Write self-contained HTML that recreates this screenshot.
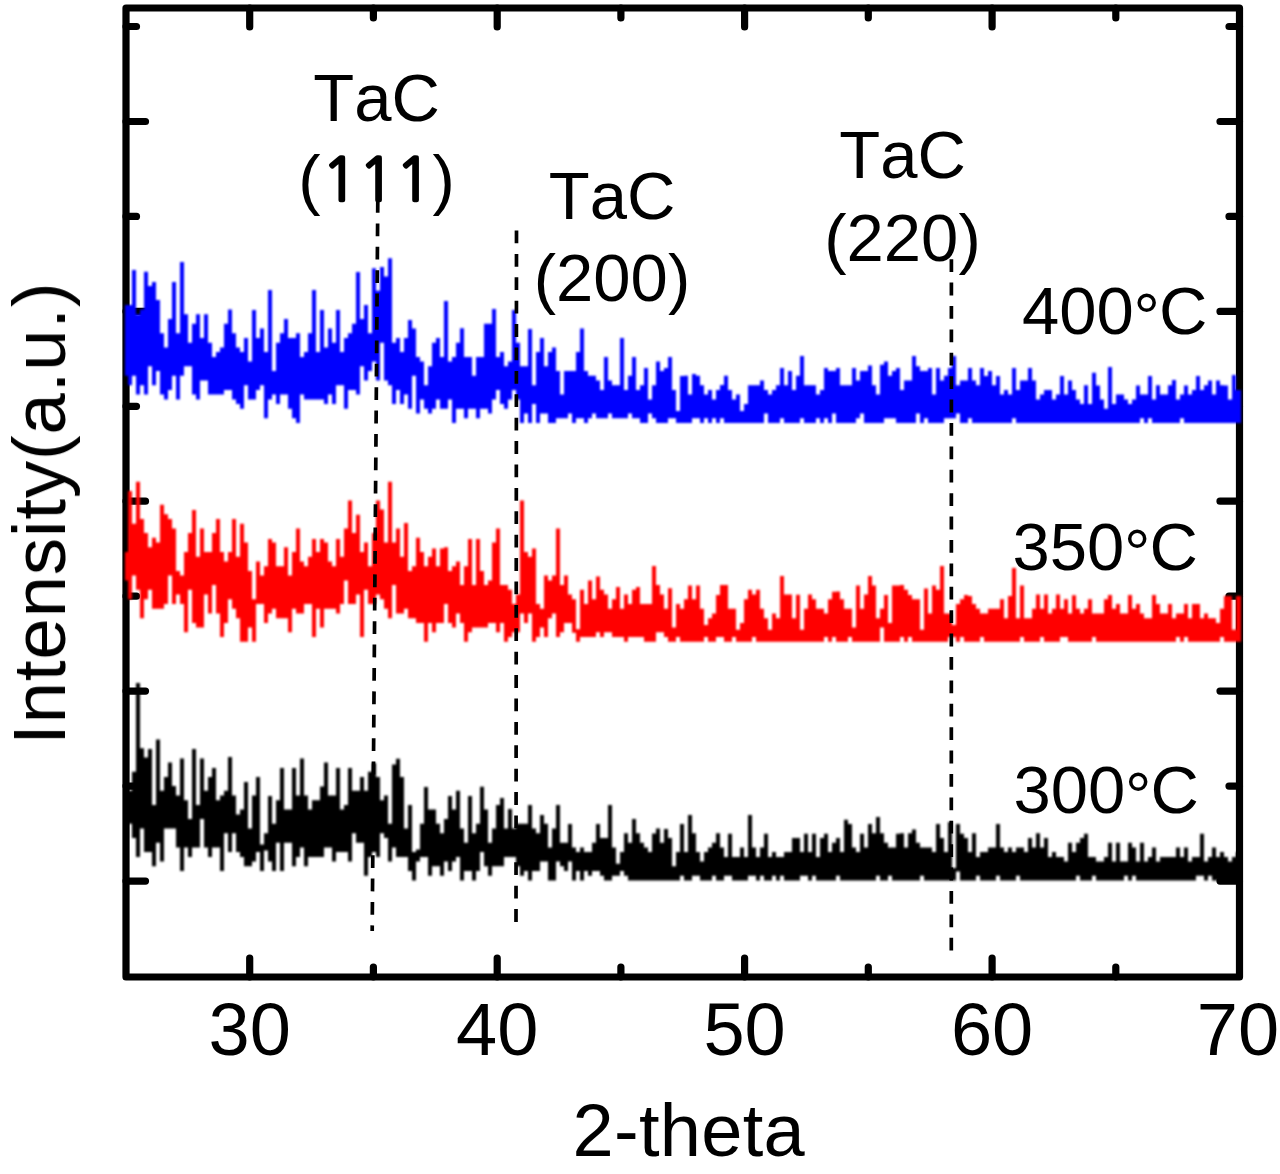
<!DOCTYPE html>
<html lang="en"><head><meta charset="utf-8"><title>XRD patterns of TaC films</title>
<style>html,body{margin:0;padding:0;background:#fff}svg{display:block}text{font-family:"Liberation Sans",Arial,Helvetica,sans-serif;fill:#000;font-kerning:none;font-variant-ligatures:none}</style></head><body>
<svg width="1280" height="1174" viewBox="0 0 1280 1174">
<rect width="1280" height="1174" fill="#fff"/>
<defs><filter id="soft" x="-2%" y="-10%" width="104%" height="120%"><feGaussianBlur stdDeviation="0.9"/></filter><filter id="aa" x="-1%" y="-1%" width="102%" height="102%"><feGaussianBlur stdDeviation="0.55"/></filter></defs>
<g filter="url(#aa)">
<g stroke="#000" stroke-width="7.2" fill="none" stroke-linecap="round">
<rect x="126.0" y="8.0" width="1113.5" height="969.0" stroke-linejoin="round"/>
<path d="M249.7 977.0V958.0M249.7 8.0V27.0"/>
<path d="M373.4 977.0V967.0M373.4 8.0V18.0"/>
<path d="M497.2 977.0V958.0M497.2 8.0V27.0"/>
<path d="M620.9 977.0V967.0M620.9 8.0V18.0"/>
<path d="M744.6 977.0V958.0M744.6 8.0V27.0"/>
<path d="M868.3 977.0V967.0M868.3 8.0V18.0"/>
<path d="M992.1 977.0V958.0M992.1 8.0V27.0"/>
<path d="M1115.8 977.0V967.0M1115.8 8.0V18.0"/>
<path d="M126.0 26.5H136.5M1239.5 26.5H1229.0"/>
<path d="M126.0 121.5H145.5M1239.5 121.5H1220.0"/>
<path d="M126.0 216.4H136.5M1239.5 216.4H1229.0"/>
<path d="M126.0 311.4H145.5M1239.5 311.4H1220.0"/>
<path d="M126.0 406.3H136.5M1239.5 406.3H1229.0"/>
<path d="M126.0 501.2H145.5M1239.5 501.2H1220.0"/>
<path d="M126.0 596.2H136.5M1239.5 596.2H1229.0"/>
<path d="M126.0 691.1H145.5M1239.5 691.1H1220.0"/>
<path d="M126.0 786.1H136.5M1239.5 786.1H1229.0"/>
<path d="M126.0 881.1H145.5M1239.5 881.1H1220.0"/>
</g>
<g filter="url(#soft)">
<path d="M125.0 790.7V790.7H128.0V790.7H132.0V771.8H136.0V683.0H140.0V748.2H144.0V757.6H148.0V749.0H152.0V804.9H156.0V739.5H160.0V790.7H164.0V777.0H168.0V762.4H172.0V786.0H176.0V795.5H180.0V758.5H184.0V800.2H188.0V819.1H192.0V749.0H196.0V804.9H200.0V758.5H204.0V790.7H208.0V777.0H212.0V768.0H216.0V800.2H220.0V795.5H224.0V790.7H228.0V757.0H232.0V795.5H236.0V814.4H240.0V809.6H244.0V782.1H248.0V828.5H252.0V795.5H256.0V777.0H260.0V844.4H264.0V833.2H268.0V796.0H272.0V823.8H276.0V800.2H280.0V768.0H284.0V809.6H288.0V809.6H292.0V768.0H296.0V795.5H300.0V758.5H304.0V795.5H308.0V809.6H312.0V800.2H316.0V800.2H320.0V786.6H324.0V762.4H328.0V795.5H332.0V795.5H336.0V768.0H340.0V809.6H344.0V804.9H348.0V768.0H352.0V790.7H356.0V790.7H360.0V777.0H364.0V790.7H368.0V771.8H372.0V762.9H376.0V777.0H380.0V800.2H384.0V795.5H388.0V823.8H392.0V764.6H396.0V758.7H400.0V777.0H404.0V828.5H408.0V805.0H412.0V852.1H416.0V849.6H420.0V823.8H424.0V787.1H428.0V809.6H432.0V809.6H436.0V823.8H440.0V833.2H444.0V819.1H448.0V796.0H452.0V809.6H456.0V790.7H460.0V828.5H464.0V842.7H468.0V796.0H472.0V833.2H476.0V823.8H480.0V786.7H484.0V809.6H488.0V842.7H492.0V828.5H496.0V805.0H500.0V798.0H504.0V828.5H508.0V808.9H512.0V828.5H516.0V823.8H520.0V823.8H524.0V823.8H528.0V805.0H532.0V828.5H536.0V833.2H540.0V815.0H544.0V823.8H548.0V847.4H552.0V828.5H556.0V805.0H560.0V842.7H564.0V842.7H568.0V824.0H572.0V847.4H576.0V852.1H580.0V847.4H584.0V852.1H588.0V852.1H592.0V842.7H596.0V824.0H600.0V838.0H604.0V838.0H608.0V805.0H612.0V847.4H616.0V863.8H620.0V852.1H624.0V833.2H628.0V842.7H632.0V819.1H636.0V833.2H640.0V842.7H644.0V847.4H648.0V852.1H652.0V833.6H656.0V828.5H660.0V842.7H664.0V828.9H668.0V838.0H672.0V866.3H676.0V852.1H680.0V824.0H684.0V852.1H688.0V815.0H692.0V833.2H696.0V852.1H700.0V861.6H704.0V852.1H708.0V847.4H712.0V842.7H716.0V833.2H720.0V847.4H724.0V856.9H728.0V833.7H732.0V856.9H736.0V856.9H740.0V847.4H744.0V856.9H748.0V815.0H752.0V847.4H756.0V856.9H760.0V847.4H764.0V833.7H768.0V856.9H772.0V852.1H776.0V856.9H780.0V856.9H784.0V852.1H788.0V852.1H792.0V838.0H796.0V838.0H800.0V852.1H804.0V833.7H808.0V852.1H812.0V833.7H816.0V856.9H820.0V838.0H824.0V833.7H828.0V852.1H832.0V842.7H836.0V838.0H840.0V852.1H844.0V819.7H848.0V824.0H852.0V847.4H856.0V852.1H860.0V833.7H864.0V847.4H868.0V824.0H872.0V833.2H876.0V817.0H880.0V833.2H884.0V842.7H888.0V847.4H892.0V847.4H896.0V833.7H900.0V833.2H904.0V847.4H908.0V833.2H912.0V829.4H916.0V842.7H920.0V847.4H924.0V847.4H928.0V847.4H932.0V852.1H936.0V824.0H940.0V838.0H944.0V852.1H948.0V822.0H952.0V868.0H956.0V824.0H960.0V833.7H964.0V838.0H968.0V852.1H972.0V833.2H976.0V856.9H980.0V852.1H984.0V852.1H988.0V847.4H992.0V847.4H996.0V824.0H1000.0V847.4H1004.0V852.1H1008.0V847.4H1012.0V852.1H1016.0V847.4H1020.0V847.4H1024.0V852.1H1028.0V838.0H1032.0V847.4H1036.0V833.2H1040.0V847.4H1044.0V838.0H1048.0V856.9H1052.0V852.1H1056.0V856.9H1060.0V856.9H1064.0V861.6H1068.0V842.7H1072.0V852.1H1076.0V842.7H1080.0V838.0H1084.0V833.7H1088.0V856.9H1092.0V856.9H1096.0V861.6H1100.0V861.6H1104.0V856.9H1108.0V842.7H1112.0V861.6H1116.0V842.7H1120.0V861.6H1124.0V861.6H1128.0V842.7H1132.0V847.4H1136.0V861.6H1140.0V842.7H1144.0V861.6H1148.0V856.9H1152.0V847.4H1156.0V861.6H1160.0V856.9H1164.0V856.9H1168.0V856.9H1172.0V856.9H1176.0V847.4H1180.0V856.9H1184.0V847.4H1188.0V861.6H1192.0V856.9H1196.0V856.9H1200.0V833.7H1204.0V861.6H1208.0V856.9H1212.0V847.4H1216.0V856.9H1220.0V852.1H1224.0V856.9H1228.0V861.6H1232.0V856.9H1236.0V852.1H1241.0V880.5H1236.0V880.5H1232.0V880.5H1228.0V880.5H1224.0V880.5H1220.0V880.5H1216.0V880.5H1212.0V875.8H1208.0V880.5H1204.0V875.8H1200.0V875.8H1196.0V880.5H1192.0V880.5H1188.0V880.5H1184.0V880.5H1180.0V880.5H1176.0V880.5H1172.0V880.5H1168.0V880.5H1164.0V880.5H1160.0V880.5H1156.0V880.5H1152.0V880.5H1148.0V880.5H1144.0V880.5H1140.0V880.5H1136.0V875.8H1132.0V880.5H1128.0V875.8H1124.0V880.5H1120.0V880.5H1116.0V880.5H1112.0V880.5H1108.0V880.5H1104.0V880.5H1100.0V880.5H1096.0V875.8H1092.0V880.5H1088.0V880.5H1084.0V880.5H1080.0V875.8H1076.0V880.5H1072.0V880.5H1068.0V880.5H1064.0V880.5H1060.0V880.5H1056.0V880.5H1052.0V880.5H1048.0V880.5H1044.0V880.5H1040.0V880.5H1036.0V880.5H1032.0V880.5H1028.0V880.5H1024.0V880.5H1020.0V875.8H1016.0V880.5H1012.0V880.5H1008.0V880.5H1004.0V880.5H1000.0V875.8H996.0V880.5H992.0V880.5H988.0V880.5H984.0V880.5H980.0V875.8H976.0V880.5H972.0V880.5H968.0V880.5H964.0V880.5H960.0V871.5H956.0V880.5H952.0V880.5H948.0V880.5H944.0V880.5H940.0V880.5H936.0V880.5H932.0V880.5H928.0V880.5H924.0V875.8H920.0V880.5H916.0V880.5H912.0V880.5H908.0V880.5H904.0V880.5H900.0V880.5H896.0V880.5H892.0V875.8H888.0V880.5H884.0V880.5H880.0V875.8H876.0V880.5H872.0V880.5H868.0V880.5H864.0V880.5H860.0V880.5H856.0V880.5H852.0V880.5H848.0V880.5H844.0V880.5H840.0V875.8H836.0V880.5H832.0V880.5H828.0V880.5H824.0V880.5H820.0V880.5H816.0V875.8H812.0V880.5H808.0V875.8H804.0V875.8H800.0V880.5H796.0V880.5H792.0V880.5H788.0V880.5H784.0V875.8H780.0V880.5H776.0V875.8H772.0V880.5H768.0V880.5H764.0V875.8H760.0V880.5H756.0V875.8H752.0V875.8H748.0V880.5H744.0V880.5H740.0V880.5H736.0V880.5H732.0V875.8H728.0V875.8H724.0V880.5H720.0V880.5H716.0V875.8H712.0V880.5H708.0V880.5H704.0V880.5H700.0V875.8H696.0V875.8H692.0V880.5H688.0V880.5H684.0V875.8H680.0V880.5H676.0V880.5H672.0V880.5H668.0V880.5H664.0V880.5H660.0V880.5H656.0V880.5H652.0V880.5H648.0V880.5H644.0V880.5H640.0V880.5H636.0V880.5H632.0V880.5H628.0V875.8H624.0V871.0H620.0V875.8H616.0V875.8H612.0V880.5H608.0V880.5H604.0V875.8H600.0V871.0H596.0V871.0H592.0V875.8H588.0V871.0H584.0V880.5H580.0V871.0H576.0V880.5H572.0V861.6H568.0V871.0H564.0V866.3H560.0V861.6H556.0V880.5H552.0V880.5H548.0V861.6H544.0V861.6H540.0V871.0H536.0V871.0H532.0V880.5H528.0V871.0H524.0V875.8H520.0V866.3H516.0V856.9H512.0V856.9H508.0V856.9H504.0V866.3H500.0V866.3H496.0V866.3H492.0V875.8H488.0V866.3H484.0V852.1H480.0V871.0H476.0V880.5H472.0V871.0H468.0V871.0H464.0V880.5H460.0V856.9H456.0V861.6H452.0V871.0H448.0V861.6H444.0V875.8H440.0V866.3H436.0V866.3H432.0V875.8H428.0V856.9H424.0V856.9H420.0V861.6H416.0V880.5H412.0V871.0H408.0V856.9H404.0V856.9H400.0V856.9H396.0V847.4H392.0V861.6H388.0V838.0H384.0V833.2H380.0V856.9H376.0V852.1H372.0V856.9H368.0V875.8H364.0V842.7H360.0V842.7H356.0V833.2H352.0V861.6H348.0V852.1H344.0V852.1H340.0V852.1H336.0V861.6H332.0V847.4H328.0V847.4H324.0V856.9H320.0V856.9H316.0V856.9H312.0V856.9H308.0V866.3H304.0V847.4H300.0V856.9H296.0V866.3H292.0V842.7H288.0V842.7H284.0V871.0H280.0V842.7H276.0V871.0H272.0V861.6H268.0V850.4H264.0V871.0H260.0V852.1H256.0V861.6H252.0V866.3H248.0V866.3H244.0V856.9H240.0V852.1H236.0V833.2H232.0V852.1H228.0V833.2H224.0V871.0H220.0V847.4H216.0V847.4H212.0V856.9H208.0V847.4H204.0V819.1H200.0V847.4H196.0V847.4H192.0V856.9H188.0V847.4H184.0V871.0H180.0V847.4H176.0V828.5H172.0V828.5H168.0V828.5H164.0V861.6H160.0V842.7H156.0V866.3H152.0V852.1H148.0V852.1H144.0V828.5H140.0V856.9H136.0V838.0H132.0V823.8H128.0V838.0H125.0Z" fill="#000000" stroke="none"/>
<path d="M125.0 552.0V552.0H128.0V491.0H132.0V523.7H136.0V481.7H140.0V518.9H144.0V533.1H148.0V547.3H152.0V537.8H156.0V542.6H160.0V504.8H164.0V514.2H168.0V518.9H172.0V528.6H176.0V570.9H180.0V575.6H184.0V552.0H188.0V533.1H192.0V510.0H196.0V556.8H200.0V528.6H204.0V552.0H208.0V552.0H212.0V533.1H216.0V519.0H220.0V552.0H224.0V561.5H228.0V552.0H232.0V519.0H236.0V556.8H240.0V523.7H244.0V542.6H248.0V570.9H252.0V599.3H256.0V561.5H260.0V575.6H264.0V566.2H268.0V539.0H272.0V542.6H276.0V566.2H280.0V566.2H284.0V547.3H288.0V575.6H292.0V552.0H296.0V528.6H300.0V561.5H304.0V566.2H308.0V556.8H312.0V539.0H316.0V552.0H320.0V539.0H324.0V542.6H328.0V561.5H332.0V566.2H336.0V539.0H340.0V556.8H344.0V528.4H348.0V500.5H352.0V533.1H356.0V514.8H360.0V552.0H364.0V542.6H368.0V566.2H372.0V533.1H376.0V500.5H380.0V509.5H384.0V542.6H388.0V481.7H392.0V542.6H396.0V528.6H400.0V556.8H404.0V523.0H408.0V570.9H412.0V566.2H416.0V537.8H420.0V552.0H424.0V566.2H428.0V556.8H432.0V548.5H436.0V566.2H440.0V548.5H444.0V547.3H448.0V570.9H452.0V566.2H456.0V561.5H460.0V585.1H464.0V566.2H468.0V539.0H472.0V585.1H476.0V539.0H480.0V570.9H484.0V585.1H488.0V580.4H492.0V542.6H496.0V528.6H500.0V585.1H504.0V585.1H508.0V589.8H512.0V604.0H516.0V594.5H520.0V500.5H524.0V552.0H528.0V556.8H532.0V548.5H536.0V604.0H540.0V608.7H544.0V575.6H548.0V580.4H552.0V575.6H556.0V528.6H560.0V585.1H564.0V575.6H568.0V594.5H572.0V599.3H576.0V629.3H580.0V589.8H584.0V604.0H588.0V580.4H592.0V599.3H596.0V576.6H600.0V589.8H604.0V594.5H608.0V608.7H612.0V599.3H616.0V587.0H620.0V608.7H624.0V594.5H628.0V604.0H632.0V589.8H636.0V587.0H640.0V604.0H644.0V604.0H648.0V604.0H652.0V566.0H656.0V585.1H660.0V594.5H664.0V608.7H668.0V588.2H672.0V627.6H676.0V604.0H680.0V608.7H684.0V599.3H688.0V585.5H692.0V599.3H696.0V585.5H700.0V608.7H704.0V625.1H708.0V618.2H712.0V613.4H716.0V595.0H720.0V585.1H724.0V585.1H728.0V608.7H732.0V608.7H736.0V629.8H740.0V622.9H744.0V599.3H748.0V589.8H752.0V594.5H756.0V589.8H760.0V608.7H764.0V618.2H768.0V629.8H772.0V613.4H776.0V618.2H780.0V576.0H784.0V594.5H788.0V594.5H792.0V618.2H796.0V594.7H800.0V629.8H804.0V608.7H808.0V594.5H812.0V599.3H816.0V608.7H820.0V608.7H824.0V613.4H828.0V599.3H832.0V591.8H836.0V591.4H840.0V599.3H844.0V608.7H848.0V608.7H852.0V627.6H856.0V585.5H860.0V608.7H864.0V594.5H868.0V576.0H872.0V585.5H876.0V618.2H880.0V608.7H884.0V595.0H888.0V622.9H892.0V585.5H896.0V585.5H900.0V585.1H904.0V589.8H908.0V595.0H912.0V599.3H916.0V599.3H920.0V629.8H924.0V588.6H928.0V613.4H932.0V585.5H936.0V589.8H940.0V566.0H944.0V613.4H948.0V613.4H952.0V625.1H956.0V604.0H960.0V599.3H964.0V595.0H968.0V596.0H972.0V604.0H976.0V608.7H980.0V613.4H984.0V613.4H988.0V608.7H992.0V608.7H996.0V608.7H1000.0V599.3H1004.0V618.2H1008.0V596.0H1012.0V568.0H1016.0V618.2H1020.0V585.5H1024.0V618.2H1028.0V618.2H1032.0V608.7H1036.0V594.5H1040.0V608.7H1044.0V594.5H1048.0V613.4H1052.0V608.7H1056.0V594.5H1060.0V608.7H1064.0V599.3H1068.0V613.4H1072.0V595.3H1076.0V608.7H1080.0V613.4H1084.0V608.7H1088.0V599.3H1092.0V613.4H1096.0V613.4H1100.0V613.4H1104.0V599.3H1108.0V595.0H1112.0V608.7H1116.0V604.0H1120.0V613.4H1124.0V613.4H1128.0V595.0H1132.0V608.7H1136.0V604.0H1140.0V613.4H1144.0V618.2H1148.0V618.2H1152.0V595.0H1156.0V604.0H1160.0V613.4H1164.0V613.4H1168.0V604.0H1172.0V618.2H1176.0V613.4H1180.0V613.4H1184.0V604.0H1188.0V618.2H1192.0V604.0H1196.0V604.0H1200.0V618.2H1204.0V613.4H1208.0V618.2H1212.0V618.2H1216.0V622.9H1220.0V608.7H1224.0V596.0H1228.0V596.0H1232.0V629.8H1236.0V596.0H1241.0V641.8H1236.0V641.8H1232.0V641.8H1228.0V641.8H1224.0V637.1H1220.0V641.8H1216.0V641.8H1212.0V641.8H1208.0V641.8H1204.0V641.8H1200.0V641.8H1196.0V641.8H1192.0V641.8H1188.0V637.1H1184.0V641.8H1180.0V637.1H1176.0V641.8H1172.0V641.8H1168.0V641.8H1164.0V641.8H1160.0V641.8H1156.0V641.8H1152.0V641.8H1148.0V641.8H1144.0V641.8H1140.0V641.8H1136.0V641.8H1132.0V641.8H1128.0V641.8H1124.0V641.8H1120.0V641.8H1116.0V641.8H1112.0V641.8H1108.0V641.8H1104.0V641.8H1100.0V641.8H1096.0V637.1H1092.0V641.8H1088.0V641.8H1084.0V641.8H1080.0V641.8H1076.0V641.8H1072.0V641.8H1068.0V637.1H1064.0V637.1H1060.0V641.8H1056.0V641.8H1052.0V641.8H1048.0V641.8H1044.0V637.1H1040.0V641.8H1036.0V641.8H1032.0V641.8H1028.0V641.8H1024.0V637.1H1020.0V641.8H1016.0V641.8H1012.0V641.8H1008.0V641.8H1004.0V641.8H1000.0V641.8H996.0V641.8H992.0V641.8H988.0V641.8H984.0V637.1H980.0V641.8H976.0V641.8H972.0V641.8H968.0V641.8H964.0V637.1H960.0V641.8H956.0V637.1H952.0V637.1H948.0V641.8H944.0V641.8H940.0V641.8H936.0V641.8H932.0V641.8H928.0V641.8H924.0V641.8H920.0V641.8H916.0V641.8H912.0V637.1H908.0V641.8H904.0V637.1H900.0V641.8H896.0V641.8H892.0V641.8H888.0V641.8H884.0V627.6H880.0V641.8H876.0V641.8H872.0V641.8H868.0V641.8H864.0V641.8H860.0V641.8H856.0V641.8H852.0V637.1H848.0V641.8H844.0V641.8H840.0V641.8H836.0V637.1H832.0V641.8H828.0V637.1H824.0V641.8H820.0V641.8H816.0V641.8H812.0V641.8H808.0V641.8H804.0V641.8H800.0V641.8H796.0V641.8H792.0V641.8H788.0V641.8H784.0V641.8H780.0V641.8H776.0V641.8H772.0V641.8H768.0V641.8H764.0V641.8H760.0V641.8H756.0V637.1H752.0V641.8H748.0V641.8H744.0V641.8H740.0V641.8H736.0V637.1H732.0V641.8H728.0V641.8H724.0V637.1H720.0V637.1H716.0V641.8H712.0V641.8H708.0V637.1H704.0V641.8H700.0V641.8H696.0V641.8H692.0V641.8H688.0V641.8H684.0V641.8H680.0V637.1H676.0V641.8H672.0V641.8H668.0V637.1H664.0V632.3H660.0V632.3H656.0V641.8H652.0V641.8H648.0V641.8H644.0V637.1H640.0V637.1H636.0V637.1H632.0V637.1H628.0V641.8H624.0V637.1H620.0V637.1H616.0V637.1H612.0V632.3H608.0V632.3H604.0V637.1H600.0V632.3H596.0V637.1H592.0V637.1H588.0V637.1H584.0V637.1H580.0V641.8H576.0V632.8H572.0V622.9H568.0V622.9H564.0V632.3H560.0V637.1H556.0V613.4H552.0V618.2H548.0V637.1H544.0V627.6H540.0V637.1H536.0V641.8H532.0V613.4H528.0V622.9H524.0V613.4H520.0V632.3H516.0V632.3H512.0V637.1H508.0V641.8H504.0V622.9H500.0V632.3H496.0V622.9H492.0V622.9H488.0V627.6H484.0V627.6H480.0V627.6H476.0V627.6H472.0V632.3H468.0V641.8H464.0V622.9H460.0V613.4H456.0V627.6H452.0V622.9H448.0V604.0H444.0V622.9H440.0V622.9H436.0V632.3H432.0V622.9H428.0V641.8H424.0V622.9H420.0V622.9H416.0V618.2H412.0V618.2H408.0V608.7H404.0V613.4H400.0V613.4H396.0V585.1H392.0V618.2H388.0V608.7H384.0V599.3H380.0V594.5H376.0V604.0H372.0V604.0H368.0V589.8H364.0V637.1H360.0V594.5H356.0V604.0H352.0V604.0H348.0V580.4H344.0V604.0H340.0V613.4H336.0V608.7H332.0V608.7H328.0V608.7H324.0V627.6H320.0V608.7H316.0V637.1H312.0V604.0H308.0V604.0H304.0V613.4H300.0V613.4H296.0V608.7H292.0V632.3H288.0V618.2H284.0V618.2H280.0V618.2H276.0V608.7H272.0V613.4H268.0V622.9H264.0V604.0H260.0V604.0H256.0V641.8H252.0V627.6H248.0V641.8H244.0V641.8H240.0V618.2H236.0V608.7H232.0V599.3H228.0V622.9H224.0V637.1H220.0V613.4H216.0V585.1H212.0V613.4H208.0V594.5H204.0V627.6H200.0V627.6H196.0V622.9H192.0V589.8H188.0V632.3H184.0V604.0H180.0V594.5H176.0V604.0H172.0V575.6H168.0V604.0H164.0V608.7H160.0V608.7H156.0V608.7H152.0V589.8H148.0V599.3H144.0V618.2H140.0V589.8H136.0V575.6H132.0V599.3H128.0V580.4H125.0Z" fill="#ff0000" stroke="none"/>
<path d="M125.0 304.9V304.9H128.0V304.9H132.0V270.0H136.0V314.3H140.0V309.6H144.0V271.8H148.0V286.0H152.0V282.0H156.0V300.1H160.0V333.2H164.0V347.4H168.0V319.1H172.0V282.0H176.0V333.2H180.0V262.0H184.0V314.3H188.0V342.7H192.0V323.8H196.0V314.3H200.0V337.9H204.0V314.3H208.0V342.7H212.0V356.9H216.0V352.1H220.0V347.4H224.0V323.8H228.0V309.6H232.0V333.2H236.0V347.4H240.0V352.1H244.0V337.9H248.0V361.6H252.0V310.0H256.0V337.9H260.0V328.5H264.0V352.1H268.0V290.0H272.0V371.0H276.0V342.7H280.0V333.2H284.0V319.1H288.0V337.9H292.0V337.9H296.0V333.2H300.0V356.9H304.0V352.1H308.0V333.2H312.0V290.0H316.0V352.1H320.0V310.0H324.0V347.4H328.0V328.5H332.0V342.7H336.0V310.0H340.0V352.1H344.0V337.9H348.0V333.2H352.0V323.8H356.0V272.0H360.0V319.1H364.0V304.9H368.0V333.2H372.0V268.3H376.0V290.7H380.0V267.1H384.0V276.5H388.0V258.2H392.0V342.7H396.0V337.9H400.0V352.1H404.0V337.9H408.0V320.0H412.0V328.5H416.0V356.9H420.0V361.6H424.0V385.2H428.0V366.3H432.0V342.7H436.0V337.9H440.0V356.9H444.0V301.0H448.0V361.6H452.0V356.9H456.0V342.7H460.0V328.3H464.0V356.9H468.0V356.9H472.0V375.8H476.0V356.9H480.0V356.9H484.0V323.8H488.0V323.8H492.0V309.0H496.0V356.9H500.0V352.1H504.0V366.3H508.0V361.6H512.0V310.0H516.0V342.7H520.0V366.3H524.0V366.3H528.0V329.0H532.0V385.2H536.0V352.1H540.0V338.0H544.0V366.3H548.0V352.1H552.0V347.4H556.0V371.0H560.0V394.6H564.0V371.0H568.0V371.0H572.0V371.0H576.0V352.1H580.0V328.6H584.0V371.0H588.0V375.8H592.0V375.8H596.0V380.5H600.0V389.9H604.0V357.0H608.0V380.5H612.0V385.2H616.0V385.2H620.0V338.0H624.0V389.9H628.0V375.8H632.0V357.0H636.0V389.9H640.0V385.2H644.0V368.0H648.0V399.4H652.0V385.2H656.0V361.6H660.0V371.0H664.0V368.0H668.0V357.0H672.0V389.9H676.0V411.0H680.0V376.0H684.0V375.8H688.0V394.6H692.0V374.0H696.0V375.8H700.0V385.2H704.0V394.6H708.0V389.9H712.0V399.4H716.0V389.9H720.0V385.0H724.0V375.8H728.0V389.9H732.0V399.4H736.0V394.6H740.0V411.0H744.0V404.1H748.0V385.2H752.0V385.2H756.0V385.2H760.0V380.5H764.0V389.9H768.0V394.6H772.0V389.9H776.0V385.2H780.0V368.0H784.0V385.2H788.0V371.0H792.0V389.9H796.0V375.8H800.0V356.0H804.0V385.2H808.0V385.2H812.0V385.2H816.0V394.6H820.0V389.9H824.0V368.0H828.0V371.0H832.0V371.0H836.0V368.0H840.0V385.2H844.0V385.2H848.0V385.2H852.0V368.0H856.0V380.5H860.0V371.0H864.0V371.0H868.0V365.4H872.0V385.2H876.0V394.6H880.0V364.7H884.0V361.6H888.0V375.8H892.0V371.0H896.0V368.0H900.0V389.9H904.0V380.5H908.0V380.5H912.0V356.0H916.0V366.3H920.0V371.0H924.0V371.0H928.0V368.0H932.0V394.6H936.0V368.0H940.0V380.5H944.0V375.8H948.0V368.0H952.0V356.0H956.0V385.2H960.0V380.5H964.0V380.5H968.0V368.0H972.0V380.5H976.0V385.2H980.0V368.0H984.0V376.0H988.0V371.0H992.0V385.2H996.0V376.0H1000.0V394.6H1004.0V389.9H1008.0V394.6H1012.0V368.0H1016.0V389.9H1020.0V380.5H1024.0V380.5H1028.0V368.0H1032.0V380.5H1036.0V399.4H1040.0V394.6H1044.0V389.9H1048.0V389.9H1052.0V399.4H1056.0V394.6H1060.0V376.0H1064.0V394.6H1068.0V380.5H1072.0V389.9H1076.0V399.4H1080.0V404.1H1084.0V385.2H1088.0V404.1H1092.0V372.7H1096.0V385.5H1100.0V399.4H1104.0V408.8H1108.0V367.0H1112.0V404.1H1116.0V394.6H1120.0V394.6H1124.0V399.4H1128.0V404.1H1132.0V399.4H1136.0V385.5H1140.0V394.6H1144.0V394.6H1148.0V376.0H1152.0V399.4H1156.0V385.2H1160.0V394.6H1164.0V394.6H1168.0V385.2H1172.0V380.0H1176.0V399.4H1180.0V394.6H1184.0V385.5H1188.0V394.6H1192.0V389.9H1196.0V376.0H1200.0V389.9H1204.0V385.2H1208.0V380.5H1212.0V394.6H1216.0V380.5H1220.0V385.2H1224.0V385.5H1228.0V399.4H1232.0V375.0H1236.0V389.9H1241.0V423.0H1236.0V423.0H1232.0V423.0H1228.0V423.0H1224.0V423.0H1220.0V423.0H1216.0V423.0H1212.0V423.0H1208.0V423.0H1204.0V423.0H1200.0V423.0H1196.0V423.0H1192.0V423.0H1188.0V423.0H1184.0V418.3H1180.0V423.0H1176.0V423.0H1172.0V423.0H1168.0V423.0H1164.0V423.0H1160.0V423.0H1156.0V423.0H1152.0V418.3H1148.0V423.0H1144.0V418.3H1140.0V423.0H1136.0V423.0H1132.0V423.0H1128.0V423.0H1124.0V423.0H1120.0V423.0H1116.0V423.0H1112.0V423.0H1108.0V423.0H1104.0V423.0H1100.0V423.0H1096.0V423.0H1092.0V423.0H1088.0V423.0H1084.0V423.0H1080.0V423.0H1076.0V423.0H1072.0V423.0H1068.0V423.0H1064.0V423.0H1060.0V423.0H1056.0V423.0H1052.0V423.0H1048.0V423.0H1044.0V423.0H1040.0V423.0H1036.0V423.0H1032.0V423.0H1028.0V423.0H1024.0V423.0H1020.0V423.0H1016.0V418.3H1012.0V423.0H1008.0V423.0H1004.0V423.0H1000.0V423.0H996.0V423.0H992.0V423.0H988.0V423.0H984.0V423.0H980.0V423.0H976.0V423.0H972.0V418.3H968.0V423.0H964.0V423.0H960.0V413.6H956.0V418.3H952.0V418.3H948.0V418.3H944.0V423.0H940.0V423.0H936.0V423.0H932.0V423.0H928.0V418.3H924.0V423.0H920.0V413.6H916.0V423.0H912.0V423.0H908.0V423.0H904.0V423.0H900.0V423.0H896.0V418.3H892.0V418.3H888.0V418.3H884.0V423.0H880.0V423.0H876.0V423.0H872.0V423.0H868.0V423.0H864.0V413.6H860.0V418.3H856.0V423.0H852.0V423.0H848.0V423.0H844.0V423.0H840.0V423.0H836.0V413.6H832.0V423.0H828.0V418.3H824.0V423.0H820.0V418.3H816.0V423.0H812.0V423.0H808.0V423.0H804.0V418.3H800.0V423.0H796.0V423.0H792.0V423.0H788.0V423.0H784.0V418.3H780.0V423.0H776.0V423.0H772.0V423.0H768.0V413.6H764.0V423.0H760.0V423.0H756.0V423.0H752.0V423.0H748.0V423.0H744.0V423.0H740.0V423.0H736.0V423.0H732.0V423.0H728.0V423.0H724.0V418.3H720.0V423.0H716.0V418.3H712.0V423.0H708.0V418.3H704.0V423.0H700.0V418.3H696.0V418.3H692.0V423.0H688.0V423.0H684.0V423.0H680.0V423.0H676.0V418.3H672.0V418.3H668.0V423.0H664.0V423.0H660.0V423.0H656.0V418.3H652.0V413.6H648.0V423.0H644.0V423.0H640.0V418.3H636.0V418.3H632.0V413.6H628.0V418.3H624.0V418.3H620.0V418.3H616.0V418.3H612.0V413.6H608.0V418.3H604.0V418.3H600.0V418.3H596.0V413.6H592.0V418.3H588.0V423.0H584.0V418.3H580.0V418.3H576.0V423.0H572.0V413.6H568.0V418.3H564.0V418.3H560.0V418.3H556.0V423.0H552.0V423.0H548.0V413.6H544.0V413.6H540.0V423.0H536.0V404.1H532.0V423.0H528.0V413.6H524.0V423.0H520.0V399.4H516.0V389.9H512.0V399.4H508.0V408.8H504.0V404.1H500.0V389.9H496.0V399.4H492.0V413.6H488.0V408.8H484.0V408.8H480.0V418.3H476.0V408.8H472.0V408.8H468.0V418.3H464.0V408.8H460.0V408.8H456.0V423.0H452.0V399.4H448.0V408.8H444.0V408.8H440.0V399.4H436.0V408.8H432.0V413.6H428.0V408.8H424.0V399.4H420.0V413.6H416.0V375.8H412.0V408.8H408.0V394.6H404.0V404.1H400.0V389.9H396.0V404.1H392.0V385.2H388.0V380.5H384.0V342.7H380.0V380.5H376.0V361.6H372.0V371.0H368.0V380.5H364.0V366.3H360.0V394.6H356.0V389.9H352.0V389.9H348.0V408.8H344.0V385.2H340.0V385.2H336.0V404.1H332.0V394.6H328.0V404.1H324.0V399.4H320.0V399.4H316.0V399.4H312.0V399.4H308.0V399.4H304.0V394.6H300.0V423.0H296.0V418.3H292.0V408.8H288.0V394.6H284.0V394.6H280.0V404.1H276.0V394.6H272.0V399.4H268.0V418.3H264.0V385.2H260.0V389.9H256.0V399.4H252.0V399.4H248.0V385.2H244.0V408.8H240.0V404.1H236.0V399.4H232.0V389.9H228.0V389.9H224.0V394.6H220.0V394.6H216.0V394.6H212.0V394.6H208.0V380.5H204.0V380.5H200.0V399.4H196.0V394.6H192.0V366.3H188.0V366.3H184.0V375.8H180.0V399.4H176.0V375.8H172.0V389.9H168.0V399.4H164.0V394.6H160.0V371.0H156.0V385.2H152.0V366.3H148.0V394.6H144.0V385.2H140.0V394.6H136.0V375.8H132.0V385.2H128.0V375.8H125.0Z" fill="#0000ff" stroke="none"/>
</g>
<g stroke="#000" stroke-width="3.7" stroke-dasharray="12.8 10.6" fill="none">
<path d="M377.8 200L372.2 931"/>
<path d="M516.5 230.5L516 924"/>
<path d="M951.4 259.2L951.3 953"/>
</g>
<g font-size="67" text-anchor="middle">
<text x="376.5" y="121">TaC</text>
<text y="202.3" text-anchor="start"><tspan x="298.3">(</tspan><tspan font-family="NanumGothic,'Liberation Sans',sans-serif" font-size="60" stroke="#000" stroke-width="2.6" x="321.8 358.6 395.6" y="201.2">111</tspan><tspan x="432.4" y="202.3">)</tspan></text>
<text x="612" y="219">TaC</text><text x="612" y="301">(200)</text>
<text x="902.5" y="177.5">TaC</text><text x="902.5" y="261">(220)</text>
</g>
<g font-size="67" text-anchor="start">
<text x="1022" y="334">400<tspan dx="-0.4" dy="6" font-size="66">°</tspan><tspan dx="-0.9" dy="-6">C</tspan></text>
<text x="1012.5" y="570.3">350<tspan dx="-0.4" dy="6" font-size="66">°</tspan><tspan dx="-0.9" dy="-6">C</tspan></text>
<text x="1013.5" y="812.6">300<tspan dx="-0.4" dy="6" font-size="66">°</tspan><tspan dx="-0.9" dy="-6">C</tspan></text>
</g>
<g font-size="74" text-anchor="middle">
<text x="249.7" y="1054.6">30</text>
<text x="497.2" y="1054.6">40</text>
<text x="744.6" y="1054.6">50</text>
<text x="992.1" y="1054.6">60</text>
<text x="1238.0" y="1054.6">70</text>
</g>
<text x="688.8" y="1156" font-size="74" letter-spacing="0.3" text-anchor="middle">2-theta</text>
<text transform="translate(65 513.2) rotate(-90)" font-size="74.5" letter-spacing="0.8" text-anchor="middle">Intensity(a.u.)</text>
</g>
</svg></body></html>
